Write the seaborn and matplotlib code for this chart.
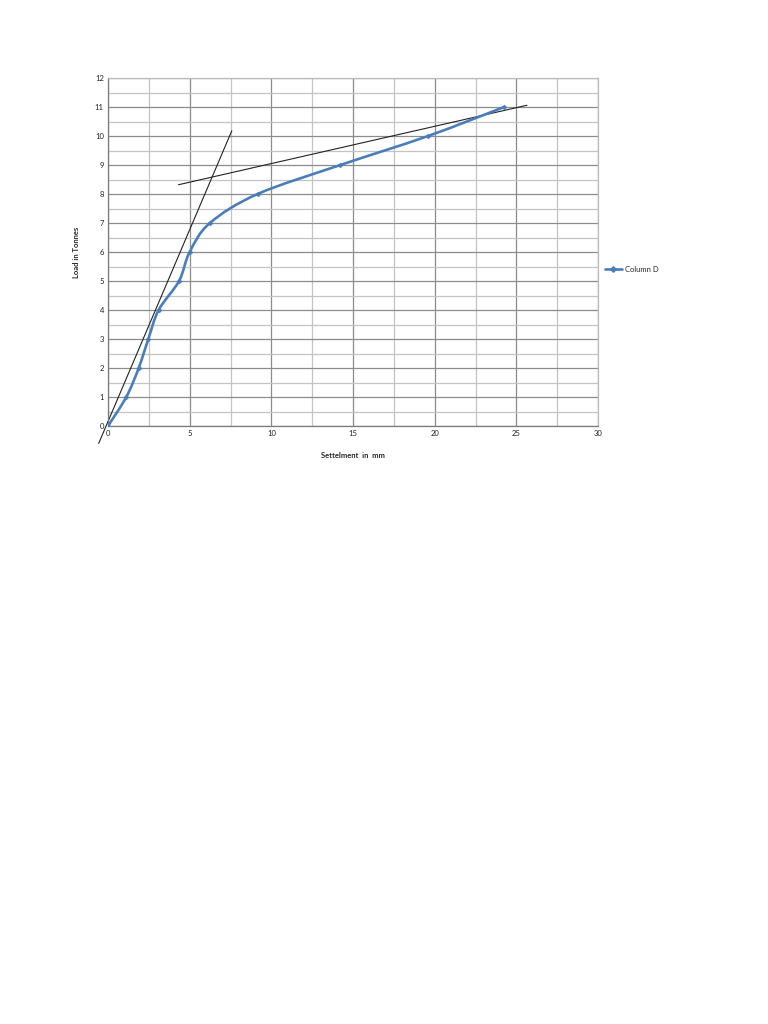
import numpy as np
import matplotlib
matplotlib.use("Agg")
import matplotlib.pyplot as plt
from matplotlib.path import Path
from matplotlib.patches import PathPatch
from matplotlib.lines import Line2D
from matplotlib.ticker import MultipleLocator
import seaborn as sns

sns.set_theme(style="white")
plt.rcParams["font.family"] = ["Lato", "DejaVu Sans"]

# settlement (mm) vs load (tonnes)
settlement = [0.0, 1.12, 1.88, 2.47, 3.1, 4.35, 5.0, 6.24, 9.16, 14.23, 19.6, 24.26]
load = [0, 1, 2, 3, 4, 5, 6, 7, 8, 9, 10, 11]

# hand-drawn tangent lines (start / end points)
tangent1_x = [-0.57, 7.58]
tangent1_y = [-0.6, 10.18]
tangent2_x = [4.32, 25.65]
tangent2_y = [8.32, 11.06]

blue = "#4a7ebb"

fig = plt.figure(figsize=(7.68, 10.24), dpi=100)
ax = fig.add_axes([108 / 768, 1 - 426 / 1024, 490 / 768, 348 / 1024])

# smoothed line like a spreadsheet chart (Catmull-Rom -> cubic Bezier)
pts = np.column_stack([settlement, load])
verts = [pts[0]]
codes = [Path.MOVETO]
for i in range(len(pts) - 1):
    p0 = pts[i - 1] if i > 0 else pts[i]
    p1 = pts[i]
    p2 = pts[i + 1]
    p3 = pts[i + 2] if i + 2 < len(pts) else pts[i + 1]
    c1 = p1 + (p2 - p0) / 6
    c2 = p2 - (p3 - p1) / 6
    verts += [c1, c2, p2]
    codes += [Path.CURVE4] * 3
ax.add_patch(PathPatch(Path(verts, codes), facecolor="none", edgecolor=blue, lw=1.9, zorder=3))

sns.scatterplot(x=settlement, y=load, marker="D", s=7, color=blue, edgecolor=blue, ax=ax, zorder=4)

ax.plot(tangent1_x, tangent1_y, color="#222222", lw=0.8, clip_on=False, zorder=2)
ax.plot(tangent2_x, tangent2_y, color="#222222", lw=0.8, clip_on=False, zorder=2)

ax.set_xlim(0, 30)
ax.set_ylim(0, 12)
ax.xaxis.set_major_locator(MultipleLocator(5))
ax.xaxis.set_minor_locator(MultipleLocator(2.5))
ax.yaxis.set_major_locator(MultipleLocator(1))
ax.yaxis.set_minor_locator(MultipleLocator(0.5))
ax.grid(which="major", color="#8c8c8c", lw=0.9)
ax.grid(which="minor", color="#c4c4c4", lw=0.9)
ax.set_axisbelow(True)
for side in ["top", "right"]:
    ax.spines[side].set_color("#bcbcbc")
    ax.spines[side].set_linewidth(0.9)
for side in ["left", "bottom"]:
    ax.spines[side].set_color("#7a7a7a")
    ax.spines[side].set_linewidth(0.9)
ax.tick_params(which="both", length=0, labelsize=5.5, colors="#222222", pad=3)

ax.set_xlabel("Settelment  in  mm", fontsize=5.5, fontweight="bold", labelpad=11)
ax.set_ylabel("Load in Tonnes", fontsize=5.5, fontweight="bold", labelpad=11)

handle = Line2D([], [], color=blue, lw=1.9, marker="D", markersize=2.8)
ax.legend([handle], ["Column D"], loc="center left", bbox_to_anchor=(1.0, 0.45),
          frameon=False, fontsize=5.5, handlelength=2.2, handletextpad=0.4)

fig.savefig("out.png", dpi=100)
